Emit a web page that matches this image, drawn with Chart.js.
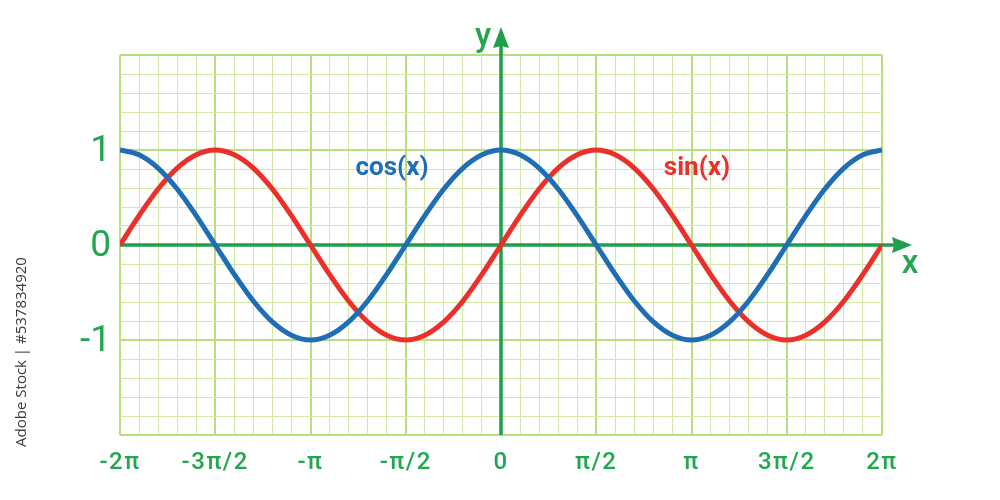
<!DOCTYPE html>
<html><head><meta charset="utf-8">
<script src="https://cdn.jsdelivr.net/npm/chart.js@4"></script>
<style>html,body{margin:0;padding:0;background:#fff}#wrap{width:1000px;height:500px}</style>
</head><body><div id="wrap"><canvas id="c" width="1000" height="500"></canvas></div>
<script>
// x positions in units of π
const xPi = [-2,-1.9,-1.8,-1.7,-1.6,-1.5,-1.4,-1.3,-1.2,-1.1,-1,-0.9,-0.8,-0.7,-0.6,-0.5,-0.4,-0.3,-0.2,-0.1,0,0.1,0.2,0.3,0.4,0.5,0.6,0.7,0.8,0.9,1,1.1,1.2,1.3,1.4,1.5,1.6,1.7,1.8,1.9,2];
const sinVals = [0,0.31,0.59,0.81,0.95,1,0.95,0.81,0.59,0.31,0,-0.31,-0.59,-0.81,-0.95,-1,-0.95,-0.81,-0.59,-0.31,0,0.31,0.59,0.81,0.95,1,0.95,0.81,0.59,0.31,0,-0.31,-0.59,-0.81,-0.95,-1,-0.95,-0.81,-0.59,-0.31,0];
const cosVals = [1,0.95,0.81,0.59,0.31,0,-0.31,-0.59,-0.81,-0.95,-1,-0.95,-0.81,-0.59,-0.31,0,0.31,0.59,0.81,0.95,1,0.95,0.81,0.59,0.31,0,-0.31,-0.59,-0.81,-0.95,-1,-0.95,-0.81,-0.59,-0.31,0,0.31,0.59,0.81,0.95,1];
const xTickPos = [-2,-1.5,-1,-0.5,0,0.5,1,1.5,2];
const xTickLabels = ['-2π','-3π/2','-π','-π/2','0','π/2','π','3π/2','2π'];
const yTickPos = [1,0,-1];
const yTickLabels = ['1','0','-1'];
const seriesNames = ['cos(x)','sin(x)'];

const GREEN = '#1f9e4c';
const TEXTGREEN = '#22a650';
const BLUE = '#1f6db5';
const RED = '#eb2f2a';
const GRID = '#d3e8a6';
const GRIDMAJ = '#bcdc80';

function isMajor(v, step){ const r = v/step; return Math.abs(r-Math.round(r))<1e-6; }

const overlay = {
  id:'overlay',
  beforeDatasetsDraw(chart){
    const c = chart.ctx, xs = chart.scales.x, ys = chart.scales.y;
    const y0 = ys.getPixelForValue(0), x0 = xs.getPixelForValue(0);
    c.save();
    c.strokeStyle = GREEN; c.fillStyle = GREEN; c.lineWidth = 3.5;
    // x axis
    c.beginPath(); c.moveTo(xs.left, y0); c.lineTo(896, y0); c.stroke();
    c.beginPath(); c.moveTo(912, y0); c.lineTo(892, y0-8); c.lineTo(894, y0); c.lineTo(892, y0+8); c.closePath(); c.fill();
    // y axis
    c.beginPath(); c.moveTo(x0, ys.bottom); c.lineTo(x0, 44); c.stroke();
    c.beginPath(); c.moveTo(x0, 27); c.lineTo(x0-8, 48); c.lineTo(x0, 46); c.lineTo(x0+8, 48); c.closePath(); c.fill();
    c.restore();
  },
  afterDraw(chart){
    const c = chart.ctx, xs = chart.scales.x, ys = chart.scales.y;
    c.save();
    c.fillStyle = TEXTGREEN;
    c.font = '500 24px Roboto';
    c.letterSpacing = '1.5px';
    c.textAlign = 'center'; c.textBaseline = 'middle';
    xTickPos.forEach((p,i)=>{ c.fillText(xTickLabels[i], xs.getPixelForValue(p), 463); });
    c.letterSpacing = '0px';
    c.font = '400 37px Roboto';
    c.textAlign = 'right';
    yTickPos.forEach((p,i)=>{ c.fillText(yTickLabels[i], 111, ys.getPixelForValue(p)+2); });
    c.font = '500 33px Roboto';
    c.textAlign = 'center';
    c.fillText('y', 483, 38);
    c.fillText('x', 910, 265);
    c.font = 'bold 26px Roboto';
    c.fillStyle = BLUE; c.fillText(seriesNames[0], 392, 168);
    c.fillStyle = RED; c.fillText(seriesNames[1], 697, 168);
    // side watermark text
    c.translate(22, 352); c.rotate(-Math.PI/2);
    c.fillStyle = '#3a3a3a'; c.font = '400 15px "Open Sans"';
    c.fillText('Adobe Stock | #537834920', 0, 0);
    c.restore();
  }
};

new Chart(document.getElementById('c'), {
  type:'line',
  data:{
    datasets:[
      {label:seriesNames[0], data:xPi.map((x,i)=>({x, y:cosVals[i]})), borderColor:BLUE, borderWidth:5, pointRadius:0, cubicInterpolationMode:'monotone', fill:false},
      {label:seriesNames[1], data:xPi.map((x,i)=>({x, y:sinVals[i]})), borderColor:RED, borderWidth:5, pointRadius:0, cubicInterpolationMode:'monotone', fill:false}
    ]
  },
  options:{
    responsive:false, animation:false, devicePixelRatio:1,
    layout:{padding:{left:120, right:118, top:55, bottom:65}},
    plugins:{legend:{display:false}, tooltip:{enabled:false}},
    scales:{
      x:{type:'linear', min:-2, max:2,
        afterBuildTicks(s){ s.ticks = xPi.map(v=>({value:v})); },
        ticks:{display:false},
        border:{display:false},
        grid:{drawTicks:false, color:c=>isMajor(c.tick.value,0.5)?GRIDMAJ:GRID, lineWidth:c=>isMajor(c.tick.value,0.5)?2:1}
      },
      y:{type:'linear', min:-2, max:2,
        afterBuildTicks(s){ const t=[]; for(let k=-10;k<=10;k++) t.push({value:k/5}); s.ticks=t; },
        ticks:{display:false},
        border:{display:false},
        grid:{drawTicks:false, color:c=>isMajor(c.tick.value,1)?GRIDMAJ:GRID, lineWidth:c=>isMajor(c.tick.value,1)?2:1}
      }
    }
  },
  plugins:[overlay]
});
</script></body></html>
